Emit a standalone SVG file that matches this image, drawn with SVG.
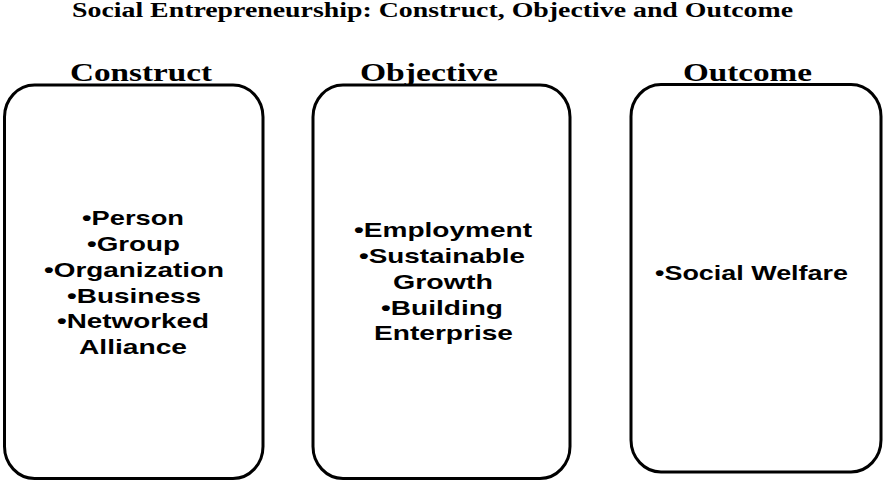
<svg xmlns="http://www.w3.org/2000/svg" width="884" height="481" viewBox="0 0 884 481">
<style>
.title{font-family:"Liberation Serif","Times New Roman",serif;font-weight:bold;font-size:20px;fill:#000}
.hdr{font-family:"Liberation Serif","Times New Roman",serif;font-weight:bold;font-size:25px;fill:#000}
.item{font-family:"Liberation Sans",Arial,sans-serif;font-weight:bold;font-size:21px;fill:#000}
.box{fill:#fff;stroke:#000;stroke-width:3}
</style>
<rect width="884" height="481" fill="#fff"/>
<text class="title" x="72" y="17" textLength="721" lengthAdjust="spacingAndGlyphs">Social Entrepreneurship: Construct, Objective and Outcome</text>
<g id="construct">
<rect class="box" x="4.5" y="85" width="258.5" height="393.5" rx="30" ry="32"/>
<text class="hdr" x="70" y="81" textLength="142" lengthAdjust="spacingAndGlyphs">Construct</text>
<text class="item" x="82" y="225" textLength="102" lengthAdjust="spacingAndGlyphs">•Person</text>
<text class="item" x="87" y="251" textLength="93" lengthAdjust="spacingAndGlyphs">•Group</text>
<text class="item" x="44" y="277" textLength="180" lengthAdjust="spacingAndGlyphs">•Organization</text>
<text class="item" x="67" y="302.5" textLength="134" lengthAdjust="spacingAndGlyphs">•Business</text>
<text class="item" x="57" y="328" textLength="152" lengthAdjust="spacingAndGlyphs">•Networked</text>
<text class="item" x="79" y="354" textLength="108" lengthAdjust="spacingAndGlyphs">Alliance</text>
</g>
<g id="objective">
<rect class="box" x="313" y="85" width="257" height="393.5" rx="30" ry="32"/>
<text class="hdr" x="360" y="81" textLength="138" lengthAdjust="spacingAndGlyphs">Objective</text>
<text class="item" x="354" y="237" textLength="178" lengthAdjust="spacingAndGlyphs">•Employment</text>
<text class="item" x="359" y="263" textLength="166" lengthAdjust="spacingAndGlyphs">•Sustainable</text>
<text class="item" x="393" y="289" textLength="100" lengthAdjust="spacingAndGlyphs">Growth</text>
<text class="item" x="381" y="314.5" textLength="122" lengthAdjust="spacingAndGlyphs">•Building</text>
<text class="item" x="374" y="340" textLength="139" lengthAdjust="spacingAndGlyphs">Enterprise</text>
</g>
<g id="outcome">
<rect class="box" x="631" y="84.5" width="250" height="387.5" rx="30" ry="32"/>
<text class="hdr" x="683" y="81" textLength="129" lengthAdjust="spacingAndGlyphs">Outcome</text>
<text class="item" x="655" y="280" textLength="193" lengthAdjust="spacingAndGlyphs">•Social Welfare</text>
</g>
<g id="connectors"></g>
</svg>
